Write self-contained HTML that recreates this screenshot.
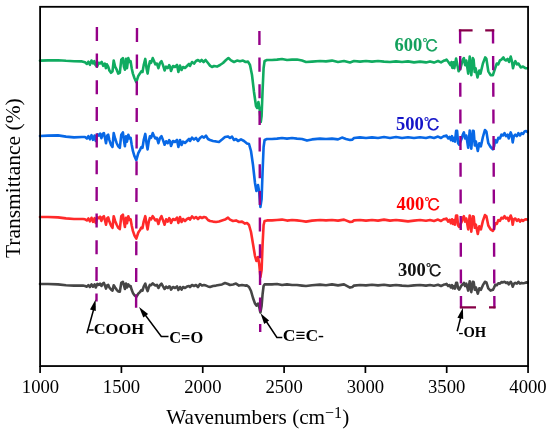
<!DOCTYPE html>
<html><head><meta charset="utf-8"><title>FTIR spectra</title>
<style>
html,body{margin:0;padding:0;background:#fff;}
body{width:550px;height:434px;overflow:hidden;}
svg{display:block;}
text{font-family:"Liberation Serif","Noto Serif CJK SC",serif;}
.tk{font-size:18.67px;text-anchor:middle;fill:#000;}
.ax{fill:#000;}
.lb{font-weight:bold;fill:#000;}
.t{font-weight:bold;font-size:18.5px;}
.deg{font-weight:normal;font-family:"IPAGothic","WenQuanYi Zen Hei","Noto Sans CJK SC",sans-serif;font-size:16.8px;}
</style></head><body>
<svg width="550" height="434" viewBox="0 0 550 434">
<rect width="550" height="434" fill="#fff"/>
<!-- spectra -->
<g fill="none" stroke-width="2.6" stroke-linejoin="round" stroke-linecap="round">
<path d="M40.0,60.6 L48.0,60.4 L58.0,60.2 L66.0,60.8 L74.0,61.2 L82.0,61.4 L85.0,62.3 L86.9,63.9 L88.4,61.7 L89.9,64.8 L91.5,60.5 L93.0,63.5 L94.3,61.2 L95.5,65.1 L97.1,66.6 L98.6,62.8 L100.1,63.5 L101.7,62.0 L103.2,65.9 L104.8,63.5 L105.9,68.2 L106.9,64.3 L108.2,66.6 L109.4,70.5 L111.0,72.8 L112.5,71.3 L113.7,60.5 L115.1,66.6 L116.7,69.7 L118.2,73.6 L119.8,72.8 L121.3,59.7 L122.9,58.1 L123.9,66.6 L124.9,69.7 L126.0,58.9 L127.0,68.2 L128.3,58.1 L129.5,62.0 L130.6,61.2 L131.7,68.2 L132.9,73.6 L134.5,78.2 L136.3,82.1 L138.3,75.9 L139.9,73.6 L141.4,71.3 L142.5,72.0 L143.7,65.1 L145.3,58.9 L146.5,68.2 L147.6,73.6 L148.7,66.6 L149.9,61.2 L151.1,62.8 L152.7,58.1 L153.8,60.5 L155.3,64.3 L156.9,63.5 L158.4,68.2 L160.0,62.8 L161.5,61.2 L163.0,65.1 L164.6,70.5 L166.1,66.6 L167.7,68.2 L169.2,65.1 L170.0,66.6 L171.0,71.0 L173.0,66.0 L175.0,67.0 L177.0,65.0 L178.4,72.0 L180.0,65.6 L181.6,70.0 L183.0,67.0 L185.0,68.0 L187.0,66.0 L189.0,64.0 L190.0,66.0 L192.0,62.0 L194.0,63.6 L196.0,61.0 L198.0,60.0 L200.0,61.6 L201.6,60.0 L203.6,62.0 L205.6,60.0 L208.0,63.0 L210.0,65.6 L212.0,67.0 L214.0,66.0 L217.0,66.6 L220.0,65.0 L223.0,63.0 L226.0,60.0 L228.4,58.0 L231.0,60.4 L234.0,62.0 L237.0,60.6 L240.0,61.2 L243.0,60.6 L245.6,62.0 L248.0,61.6 L250.0,65.0 L252.0,75.0 L254.0,92.0 L256.0,106.0 L257.2,108.0 L258.4,102.0 L259.6,109.0 L260.8,122.0 L261.6,116.0 L262.6,90.0 L263.6,68.0 L264.6,61.0 L267.0,60.0 L272.0,60.0 L277.0,59.6 L282.0,59.0 L287.0,60.0 L292.0,59.6 L297.0,59.6 L302.0,60.6 L306.0,62.0 L312.0,61.6 L320.0,61.0 L326.0,61.4 L332.0,60.6 L338.0,62.0 L344.0,61.0 L350.0,62.4 L354.0,61.0 L360.0,61.6 L366.0,61.0 L372.0,61.6 L378.0,61.0 L384.0,61.6 L390.0,62.0 L396.0,61.4 L402.0,62.0 L408.0,61.4 L414.0,62.4 L420.0,61.6 L426.0,62.4 L430.0,61.4 L434.0,62.6 L438.0,61.0 L441.0,62.4 L444.0,60.6 L445.0,60.5 L446.5,59.7 L448.4,62.0 L450.4,65.1 L451.5,62.0 L452.3,67.9 L453.5,62.3 L454.3,68.2 L456.1,58.6 L458.6,71.3 L460.5,68.2 L462.8,59.7 L463.9,58.1 L465.1,65.1 L466.3,60.5 L468.2,73.6 L469.7,56.6 L471.3,75.1 L472.8,58.1 L473.6,59.7 L474.7,72.0 L475.6,68.2 L477.5,77.5 L479.3,70.5 L480.5,73.6 L482.9,63.5 L485.2,57.4 L486.4,58.9 L488.3,71.3 L490.6,75.1 L492.9,75.1 L495.2,68.2 L496.8,63.5 L498.3,64.3 L499.9,60.5 L501.4,59.7 L503.4,57.4 L504.5,59.7 L506.0,60.5 L507.6,58.9 L509.1,62.0 L510.7,56.6 L511.8,60.5 L513.0,68.2 L514.2,63.5 L515.3,61.2 L516.9,64.3 L518.4,63.5 L520.7,67.4 L523.0,66.6 L525.4,68.2 L527.7,68.2" stroke="#10ab60"/>
<path d="M40.0,136.0 L48.0,135.6 L58.0,135.4 L66.0,136.6 L74.0,137.4 L82.0,137.0 L85.0,137.0 L86.9,138.5 L88.4,136.2 L89.9,139.3 L91.5,135.1 L93.0,139.8 L94.6,135.5 L95.8,140.9 L97.4,134.2 L98.9,135.5 L100.1,133.6 L101.4,138.2 L102.8,133.9 L103.9,133.1 L105.1,138.5 L106.0,143.2 L107.3,135.5 L108.2,134.7 L109.4,140.1 L111.0,144.7 L112.5,147.0 L113.7,133.1 L115.1,138.5 L116.7,143.2 L118.2,146.3 L119.8,147.8 L121.3,134.7 L122.9,132.4 L123.9,140.1 L124.9,146.3 L126.0,136.2 L127.0,141.6 L128.3,134.7 L129.5,138.5 L130.6,137.8 L131.7,144.7 L132.9,150.9 L134.5,156.3 L136.3,160.2 L138.3,153.2 L139.9,150.1 L141.4,147.0 L142.5,147.8 L143.7,140.1 L145.3,133.9 L146.5,143.2 L147.6,149.4 L148.7,141.6 L149.9,136.2 L151.1,137.8 L152.7,133.1 L153.8,135.5 L155.3,138.5 L156.9,137.8 L158.4,143.2 L160.0,137.8 L161.5,136.2 L163.0,140.1 L164.6,144.7 L166.1,141.3 L167.7,143.2 L169.2,140.1 L170.0,141.3 L171.0,146.0 L173.0,141.0 L175.0,142.0 L177.0,140.0 L178.4,147.0 L180.0,140.0 L181.6,145.0 L183.0,141.6 L185.0,143.0 L187.0,141.0 L189.0,139.0 L190.0,141.0 L192.0,137.6 L194.0,139.6 L196.0,138.0 L198.0,141.0 L200.0,138.0 L202.0,136.4 L204.0,137.6 L206.0,135.6 L208.0,139.0 L210.0,140.0 L213.0,141.0 L216.0,141.4 L219.0,142.0 L222.0,139.6 L225.0,137.0 L228.0,136.4 L230.0,138.0 L232.0,136.6 L234.0,140.0 L236.0,139.0 L238.0,141.0 L241.0,139.4 L244.0,141.0 L247.0,143.4 L249.0,144.0 L251.0,151.0 L253.0,165.0 L255.0,183.0 L256.4,191.0 L258.0,185.0 L259.2,192.0 L260.4,207.0 L261.6,199.0 L262.6,171.0 L263.6,147.0 L264.6,140.0 L267.0,139.0 L272.0,139.0 L277.0,138.6 L282.0,138.0 L287.0,138.6 L292.0,138.0 L297.0,138.6 L302.0,139.0 L307.0,140.6 L312.0,139.4 L320.0,138.6 L326.0,139.0 L332.0,138.6 L338.0,139.4 L342.0,137.6 L346.0,139.0 L350.0,140.0 L352.4,139.6 L354.0,138.0 L360.0,137.4 L366.0,138.0 L372.0,137.4 L378.0,138.0 L384.0,137.0 L390.0,138.0 L396.0,137.0 L402.0,138.0 L408.0,137.2 L414.0,138.0 L420.0,137.2 L426.0,138.0 L430.0,137.0 L434.0,138.0 L438.0,136.6 L441.0,138.0 L444.0,136.0 L445.0,136.2 L446.5,135.5 L448.1,138.5 L449.6,137.0 L450.9,140.1 L452.0,136.2 L453.0,140.9 L454.3,137.8 L455.0,141.6 L456.1,130.8 L457.1,130.8 L458.1,143.2 L459.2,144.7 L461.7,138.5 L462.8,134.7 L463.9,132.4 L465.1,138.5 L466.3,135.5 L468.2,147.8 L469.7,130.5 L471.3,148.6 L472.8,130.8 L473.7,131.1 L474.8,145.5 L475.9,141.6 L477.8,150.9 L479.3,143.2 L480.9,146.3 L482.9,137.0 L484.9,130.0 L486.4,131.6 L488.3,143.2 L490.6,147.0 L492.9,149.4 L494.1,146.3 L495.2,140.1 L496.8,142.4 L498.3,137.8 L499.9,138.5 L501.4,134.7 L503.0,135.5 L504.5,133.1 L506.0,136.2 L507.6,134.7 L508.7,138.5 L510.7,132.4 L511.8,135.5 L512.7,142.4 L513.8,136.2 L515.3,134.7 L516.9,136.2 L518.4,133.1 L520.0,135.5 L521.5,133.1 L523.0,133.9 L524.6,131.6 L526.1,131.1 L527.7,132.1" stroke="#0868e6"/>
<path d="M40.0,217.0 L48.0,217.0 L58.0,217.4 L66.0,218.4 L74.0,219.0 L83.0,219.0 L85.0,219.3 L86.9,220.4 L88.4,218.5 L89.9,221.3 L91.5,217.8 L93.0,221.9 L94.6,218.2 L95.8,222.9 L97.4,217.3 L98.9,218.2 L100.1,216.7 L101.4,220.9 L102.8,217.0 L103.9,216.2 L105.1,220.9 L106.0,224.7 L107.3,218.2 L108.2,217.3 L109.4,221.6 L111.0,225.5 L112.5,227.8 L113.7,216.2 L115.1,220.9 L116.7,224.7 L118.2,227.8 L119.8,229.1 L121.3,216.2 L122.9,214.7 L123.9,221.6 L124.9,227.0 L126.0,217.8 L127.0,223.2 L128.3,216.2 L129.5,219.8 L130.6,219.3 L131.7,225.5 L132.9,230.9 L134.5,235.5 L136.3,238.6 L138.3,232.5 L139.9,230.1 L141.4,227.5 L142.5,228.1 L143.7,221.6 L145.3,216.2 L146.5,224.0 L147.6,229.4 L148.7,222.4 L149.9,218.2 L151.1,219.3 L152.7,216.2 L153.8,217.8 L155.3,220.4 L156.9,219.3 L158.4,224.0 L160.0,218.9 L161.5,216.2 L163.0,220.4 L164.6,224.7 L166.1,219.3 L167.7,221.6 L169.2,218.2 L170.0,219.3 L171.0,223.0 L173.0,219.0 L175.0,220.0 L177.0,217.6 L178.4,223.0 L180.0,217.0 L181.6,222.0 L183.0,219.0 L185.0,221.0 L187.0,219.0 L189.0,218.0 L190.0,219.6 L192.0,216.4 L194.0,218.4 L196.0,217.0 L198.0,219.0 L200.0,217.0 L202.0,218.0 L204.0,217.0 L206.0,217.6 L208.0,220.0 L210.0,221.0 L213.0,221.6 L216.0,222.0 L219.0,221.4 L222.0,220.4 L225.0,219.6 L228.0,217.6 L230.0,219.6 L233.0,221.0 L236.0,220.4 L239.0,222.0 L242.0,221.6 L245.0,223.6 L247.0,223.0 L249.0,225.0 L251.0,232.0 L253.0,244.0 L255.0,256.0 L256.4,261.0 L258.0,257.0 L259.2,264.0 L260.4,277.0 L261.6,270.0 L262.6,244.0 L263.6,225.0 L264.6,221.0 L267.0,220.4 L272.0,220.4 L277.0,220.0 L282.0,219.6 L287.0,220.6 L292.0,220.0 L297.0,220.4 L302.0,221.0 L306.0,221.6 L312.0,220.6 L320.0,220.0 L326.0,220.4 L332.0,220.0 L338.0,220.6 L344.0,219.6 L350.0,222.0 L352.4,221.6 L354.0,220.4 L360.0,220.0 L366.0,220.6 L372.0,220.0 L378.0,220.6 L384.0,219.6 L390.0,220.6 L396.0,220.0 L402.0,220.6 L408.0,221.4 L414.0,220.6 L420.0,220.0 L426.0,220.8 L430.0,220.0 L434.0,221.0 L438.0,219.6 L441.0,221.0 L444.0,219.0 L445.0,219.3 L446.5,218.5 L448.1,221.6 L449.6,219.8 L450.9,223.2 L452.0,219.3 L453.0,224.0 L454.3,220.1 L455.0,224.7 L456.1,215.5 L457.1,215.5 L458.1,225.5 L459.2,227.0 L461.7,221.6 L462.8,217.8 L463.9,216.2 L465.1,221.6 L466.3,218.5 L468.2,229.4 L469.7,215.5 L471.3,231.7 L472.8,216.2 L473.7,216.7 L474.8,227.8 L475.9,224.7 L477.8,234.0 L479.3,226.3 L480.9,229.4 L482.9,220.9 L484.9,215.1 L486.4,216.2 L488.3,225.5 L490.6,229.4 L492.9,230.9 L494.1,228.6 L495.2,223.2 L496.8,224.0 L498.3,220.1 L499.9,220.9 L501.4,217.8 L503.0,218.5 L504.5,216.2 L506.0,218.5 L507.6,217.8 L508.7,220.9 L510.7,215.5 L511.8,218.5 L512.7,224.7 L513.8,219.3 L515.3,218.5 L516.9,220.9 L518.4,219.3 L520.0,221.6 L521.5,219.8 L523.0,220.9 L524.6,219.8 L526.1,219.3 L527.7,219.8" stroke="#ff2a2a"/>
<path d="M40.0,284.0 L48.0,284.0 L58.0,284.4 L66.0,285.2 L74.0,285.6 L83.0,285.6 L85.0,286.0 L86.9,286.7 L88.4,285.2 L89.9,287.0 L91.5,284.4 L93.0,286.7 L94.6,284.4 L95.8,287.5 L97.4,283.9 L98.9,284.9 L100.1,283.6 L101.4,286.0 L102.8,283.6 L103.9,282.9 L105.1,286.0 L106.0,288.6 L107.3,285.2 L108.2,284.9 L109.4,287.5 L111.0,289.5 L112.5,290.6 L113.7,285.2 L115.1,287.5 L116.7,289.8 L118.2,291.4 L119.8,291.7 L121.3,282.9 L122.9,281.8 L123.9,285.2 L124.9,289.0 L126.0,283.6 L127.0,287.5 L128.3,284.4 L129.5,286.4 L130.6,286.0 L131.7,289.8 L132.9,292.9 L134.5,295.2 L136.3,296.8 L138.3,293.7 L139.9,292.1 L141.4,290.1 L142.5,290.6 L143.7,286.7 L145.3,283.6 L146.5,288.3 L147.6,291.1 L148.7,287.5 L149.9,284.9 L151.1,285.2 L152.7,283.3 L153.8,284.4 L155.3,285.5 L156.9,284.9 L158.4,288.0 L160.0,285.2 L161.5,283.6 L163.0,286.4 L164.6,289.0 L166.1,286.7 L167.7,288.0 L169.2,286.4 L170.0,286.7 L171.0,289.6 L173.0,287.0 L175.0,288.0 L177.0,286.4 L178.4,290.0 L180.0,287.0 L181.6,289.6 L183.0,287.0 L185.0,288.0 L187.0,286.6 L189.0,286.0 L190.0,287.0 L192.0,285.0 L194.0,286.0 L196.0,285.0 L198.0,287.0 L200.0,284.0 L202.0,285.6 L204.0,285.0 L206.0,285.6 L208.0,286.4 L210.0,287.0 L213.0,286.0 L216.0,285.6 L219.0,285.0 L222.0,284.4 L225.0,283.0 L228.0,284.0 L230.0,285.0 L233.0,284.4 L236.0,283.6 L239.0,285.6 L242.0,285.0 L245.0,285.6 L247.0,285.4 L249.0,287.0 L251.0,291.0 L253.0,298.0 L255.0,303.6 L256.4,305.6 L258.0,303.6 L259.2,307.0 L260.4,312.4 L261.6,306.0 L262.6,294.0 L263.6,286.0 L264.6,284.4 L267.0,284.4 L272.0,284.4 L277.0,284.0 L282.0,285.0 L287.0,284.4 L292.0,285.0 L297.0,285.0 L302.0,285.6 L306.0,286.0 L312.0,285.2 L320.0,284.6 L326.0,285.2 L332.0,284.4 L338.0,285.4 L344.0,284.4 L350.0,287.6 L352.4,287.0 L354.0,285.6 L360.0,285.0 L366.0,285.4 L372.0,284.8 L378.0,285.4 L384.0,284.8 L390.0,285.6 L396.0,285.0 L402.0,285.6 L408.0,286.0 L414.0,285.4 L420.0,285.0 L426.0,285.6 L430.0,285.0 L434.0,285.8 L438.0,284.8 L441.0,286.0 L444.0,284.6 L445.0,284.4 L446.5,283.9 L448.1,286.0 L449.6,285.2 L450.9,287.5 L452.0,285.2 L453.0,288.3 L454.3,286.0 L455.0,288.6 L456.1,282.9 L457.1,282.9 L458.1,288.3 L459.2,289.5 L461.7,285.2 L462.8,284.4 L463.9,282.9 L465.1,286.0 L466.3,283.6 L468.2,290.6 L469.7,281.3 L471.3,292.1 L472.8,281.8 L473.7,282.1 L474.8,289.8 L475.9,287.5 L477.8,293.7 L479.3,288.3 L480.9,289.8 L482.9,285.2 L484.9,281.8 L486.4,282.4 L488.3,288.3 L490.6,290.6 L492.9,289.8 L494.1,287.5 L495.2,284.9 L496.8,285.2 L498.3,283.3 L499.9,283.6 L501.4,282.1 L503.0,282.4 L504.5,281.8 L506.0,282.9 L507.6,282.4 L508.7,284.4 L510.7,281.8 L511.8,283.6 L512.7,286.7 L513.8,283.9 L515.3,282.9 L516.9,283.6 L518.4,281.8 L520.0,283.6 L521.5,282.9 L523.0,283.3 L524.6,282.9 L526.1,282.4 L527.7,282.6" stroke="#464646"/>
</g>
<!-- dashed guides -->
<path d="M96.90,27.0 L96.88,41.0 M96.86,53.6 L96.84,67.7 M96.82,80.3 L96.80,94.3 M96.78,106.9 L96.76,120.9 M96.74,133.6 L96.72,147.6 M96.71,160.2 L96.69,174.2 M96.67,186.9 L96.65,200.9 M96.63,213.6 L96.61,227.6 M96.59,240.2 L96.57,254.2 M96.55,266.9 L96.53,280.9 M96.51,293.5 L96.50,301.6 M137.00,28.0 L136.95,42.0 M136.91,54.6 L136.87,68.7 M136.83,81.3 L136.78,95.3 M136.74,107.9 L136.70,121.9 M136.66,134.6 L136.61,148.6 M136.57,161.2 L136.53,175.2 M136.49,187.9 L136.44,201.9 M136.40,214.6 L136.35,228.6 M136.31,241.2 L136.27,255.2 M136.23,267.9 L136.18,281.9 M136.14,294.5 L136.10,307.7 M259.40,31.0 L259.44,45.0 M259.47,57.6 L259.51,71.7 M259.54,84.3 L259.58,98.3 M259.61,110.9 L259.65,124.9 M259.68,137.6 L259.72,151.6 M259.75,164.2 L259.79,178.2 M259.82,190.9 L259.86,204.9 M259.90,217.6 L259.93,231.6 M259.97,244.2 L260.00,258.2 M260.04,270.9 L260.07,284.9 M260.11,297.5 L260.15,311.5 M260.18,324.1 L260.20,332.0 M460.10,29.5 L460.15,43.5 M460.19,56.1 L460.23,70.2 M460.27,82.8 L460.32,96.8 M460.36,109.4 L460.40,123.4 M460.44,136.1 L460.49,150.1 M460.53,162.8 L460.58,176.8 M460.62,189.4 L460.66,203.4 M460.70,216.1 L460.75,230.1 M460.79,242.7 L460.83,256.7 M460.87,269.4 L460.92,283.4 M460.96,296.0 L461.00,308.3 M493.00,29.5 L493.07,43.5 M493.13,56.1 L493.20,70.2 M493.27,82.8 L493.34,96.8 M493.40,109.4 L493.47,123.4 M493.54,136.1 L493.61,150.1 M493.67,162.8 L493.74,176.8 M493.80,189.4 L493.87,203.4 M493.94,216.1 L494.01,230.1 M494.07,242.7 L494.14,256.7 M494.20,269.4 L494.27,283.4 M494.34,296.0 L494.40,308.3 " stroke="#950088" stroke-width="2.4" fill="none"/>
<path d="M458.9,30.4 H472.6 M485.2,30.4 H494.2 M459.9,307.4 H476 M489,307.4 H495.5" stroke="#860047" stroke-width="2.4" fill="none"/>
<!-- frame -->
<rect x="40.1" y="6.8" width="487.95" height="359.25" fill="none" stroke="#000" stroke-width="1.8"/>
<path d="M40.1,366V372.9 M121.4,366V372.9 M202.75,366V372.9 M284.1,366V372.9 M365.4,366V372.9 M446.7,366V372.9 M528.05,366V372.9" stroke="#000" stroke-width="1.7"/>
<text class="tk" x="40.5" y="392.5">1000</text>
<text class="tk" x="121.5" y="392.5">1500</text>
<text class="tk" x="202.8" y="392.5">2000</text>
<text class="tk" x="284.1" y="392.5">2500</text>
<text class="tk" x="365.4" y="392.5">3000</text>
<text class="tk" x="446.7" y="392.5">3500</text>
<text class="tk" x="528" y="392.5">4000</text>
<text class="ax" x="166.2" y="424" font-size="21.2">Wavenumbers (cm<tspan font-size="16" dy="-6.5">−1</tspan><tspan dy="6.5">)</tspan></text>
<text class="ax" font-size="21.5" transform="translate(20.2,258.1) rotate(-90)">Transmittance (%)</text>
<!-- temperature labels -->
<text class="t" x="394.4" y="51.4" fill="#12a05c" color="#12a05c">600<tspan class="deg" dy="0.7" dx="0.1" stroke-width="0.25" stroke="currentColor">℃</tspan></text>
<text class="t" x="395.9" y="130" fill="#1414c8" color="#1414c8">500<tspan class="deg" dy="0.7" dx="0.1" stroke-width="0.25" stroke="currentColor">℃</tspan></text>
<text class="t" x="396.4" y="210.4" fill="#ff0000" color="#ff0000">400<tspan class="deg" dy="0.7" dx="0.1" stroke-width="0.25" stroke="currentColor">℃</tspan></text>
<text class="t" x="398" y="276.4" fill="#111" color="#111">300<tspan class="deg" dy="0.7" dx="0.1" stroke-width="0.25" stroke="currentColor">℃</tspan></text>
<!-- annotations -->
<g stroke="#000" stroke-width="1.5" fill="none" stroke-linejoin="miter">
<path d="M87,333.2 L94.6,306 M88.8,329.9 H93.6"/>
<path d="M168.5,336.5 H161.3 L143,312"/>
<path d="M282.3,337.4 H276.9 L264,318"/>
<path d="M457.2,331.3 L461.8,313"/>
</g>
<g fill="#000"><polygon points="95.6,299.6 95.8,311.0 90.0,309.5"/><polygon points="139.1,306.9 148.1,313.9 143.3,317.5"/><polygon points="260.5,313.2 269.1,320.6 264.2,324.0"/><polygon points="462.9,307.7 463.2,319.1 457.4,317.7"/></g>
<text class="lb" x="93.7" y="334.2" font-size="14.4" textLength="50.4" lengthAdjust="spacingAndGlyphs">COOH</text>
<text class="lb" x="169.2" y="342.5" font-size="17.5" textLength="34" lengthAdjust="spacingAndGlyphs">C=O</text>
<text class="lb" x="282.7" y="340.9" font-size="17.6">C≡C-</text>
<text class="lb" x="458.6" y="336.7" font-size="14.6">-OH</text>
</svg>
</body></html>
